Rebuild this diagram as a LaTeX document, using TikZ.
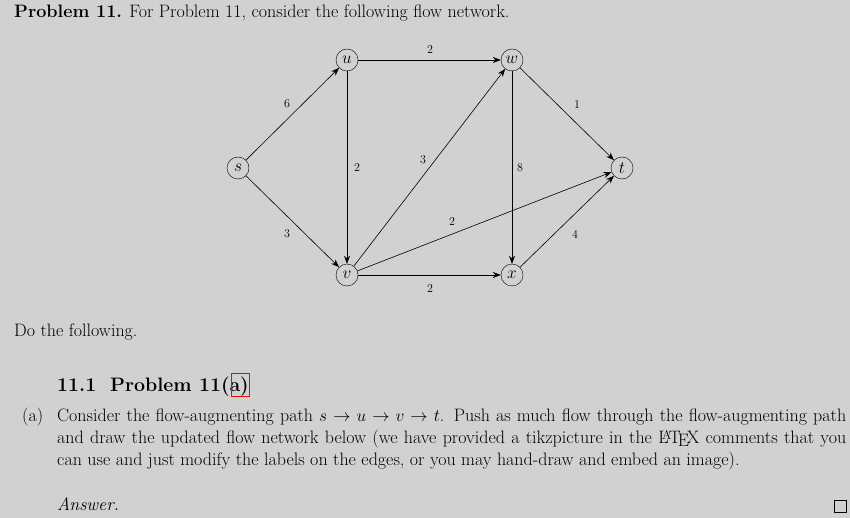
\documentclass[tikz,border=0pt]{standalone}
\usetikzlibrary{arrows.meta}
\begin{document}
\begin{tikzpicture}[x=1pt,y=-1pt,
  vtx/.style={draw,circle,inner sep=0pt,minimum size=22pt,font=\fontsize{16}{18}\selectfont},
  edge/.style={draw,-{Stealth[length=8pt,width=6pt]},line width=0.6pt},
  lbl/.style={font=\fontsize{12}{14}\selectfont},
  txt/.style={anchor=base west,inner sep=0pt,font=\fontsize{18}{22}\selectfont}]
\fill[white!82!black] (0,0) rectangle (850,518);
\useasboundingbox (0,0) rectangle (850,518);
\node[txt] (title) at (14,18) {\textbf{Problem 11.} For Problem 11, consider the following flow network.};
\node[vtx] (s) at (238,168) {$s$};
\node[vtx] (u) at (347,60) {$u$};
\node[vtx] (w) at (512,60) {$w$};
\node[vtx] (t) at (622,168) {$t$};
\node[vtx] (v) at (347,275) {$v$};
\node[vtx] (x) at (512,275) {$x$};
\draw[edge] (s) -- (u);
\draw[edge] (s) -- (v);
\draw[edge] (u) -- (w);
\draw[edge] (u) -- (v);
\draw[edge] (v) -- (w);
\draw[edge] (w) -- (x);
\draw[edge] (w) -- (t);
\draw[edge] (v) -- (t);
\draw[edge] (x) -- (t);
\draw[edge] (v) -- (x);
\node[lbl] (l1) at (430,50) {2};
\node[lbl] (l2) at (287,104) {6};
\node[lbl] (l3) at (287,234) {3};
\node[lbl] (l4) at (357,168) {2};
\node[lbl] (l5) at (423,160) {3};
\node[lbl] (l6) at (520,168) {8};
\node[lbl] (l7) at (577,105) {1};
\node[lbl] (l8) at (452,222) {2};
\node[lbl] (l9) at (575,234) {4};
\node[lbl] (l10) at (430,289) {2};
\node[txt] (do) at (14,336) {Do the following.};
\node[txt,font=\fontsize{19.5}{24}\selectfont\bfseries] (sec) at (57,391) {11.1\hspace{14pt}Problem 11(a)};
\draw[red,line width=0.6pt] (231,373) rectangle (249,396);
\node[txt] (a) at (22,421) {(a)};
\node[txt] (p1) at (57,421) {\makebox[789pt][s]{Consider the flow-augmenting path $s\to u\to v\to t$. Push as much flow through the flow-augmenting path}};
\node[txt] (p2) at (57,443) {\makebox[789pt][s]{and draw the updated flow network below (we have provided a tikzpicture in the \mbox{\LaTeX} comments that you}};
\node[txt] (p3) at (57,465) {can use and just modify the labels on the edges, or you may hand-draw and embed an image).};
\node[txt] (ans) at (57,510) {\textit{Answer.}};
\draw[line width=0.6pt] (834,500) rectangle (846,512);
\end{tikzpicture}
\end{document}
